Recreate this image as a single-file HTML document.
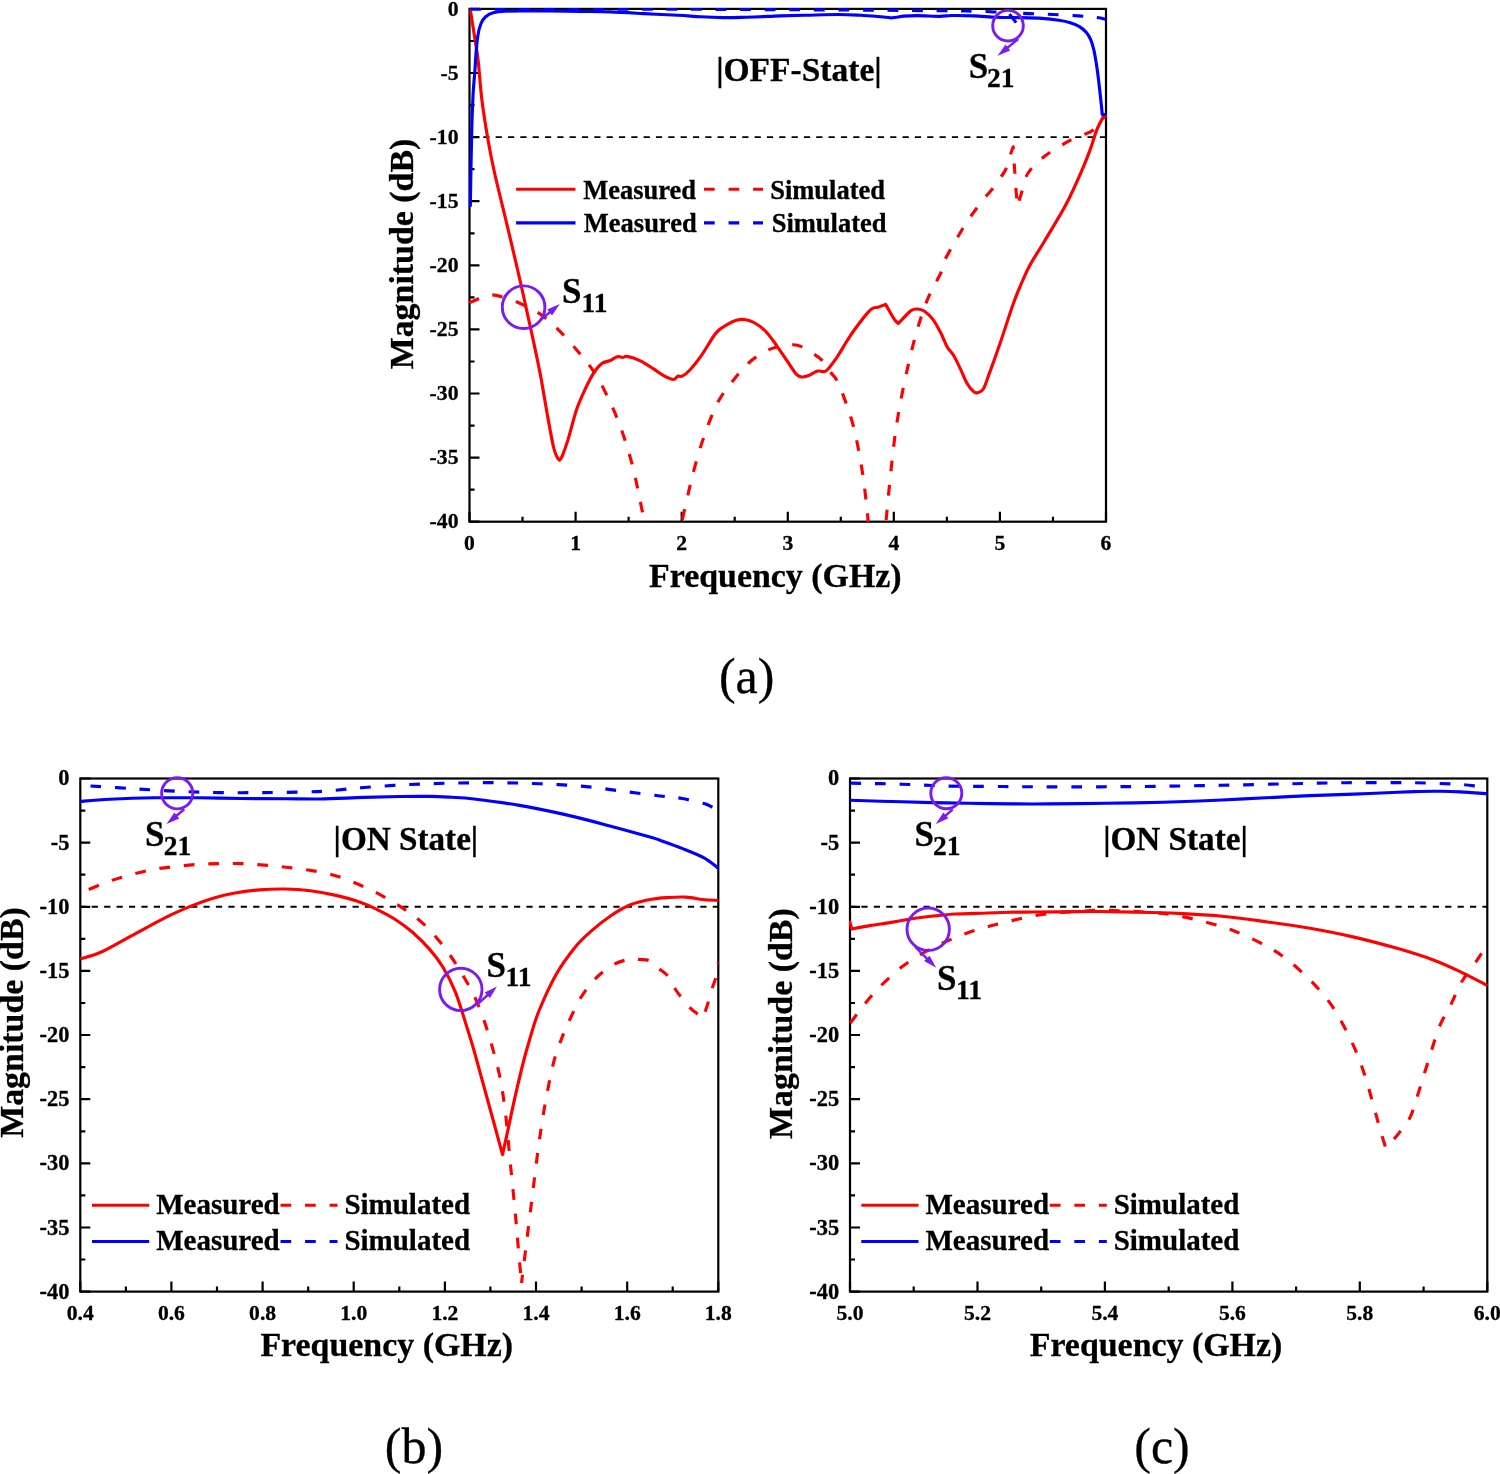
<!DOCTYPE html>
<html lang="en"><head><meta charset="utf-8"><title>S-parameters: OFF-State and ON State</title>
<style>html,body{margin:0;padding:0;background:#fff}svg{display:block;font-family:'Liberation Serif', 'Times New Roman', serif}text{stroke:#000;stroke-width:.3px}</style></head><body>
<svg width="1500" height="1474" viewBox="0 0 1500 1474" font-family='"Liberation Serif", "Times New Roman", serif'>
<rect width="1500" height="1474" fill="#fff"/>
<clipPath id="clipA"><rect x="468.5" y="7.9" width="638.5" height="514.8"/></clipPath>
<line x1="469.5" y1="137.1" x2="1106" y2="137.1" stroke="#000" stroke-width="1.9" stroke-dasharray="6.2 6.13" stroke-dashoffset="-1.5"/>
<rect x="469.5" y="8.9" width="636.5" height="512.8" fill="none" stroke="#000" stroke-width="2.2"/>
<path d="M469.5 8.9h10M469.5 41h5M469.5 73h10M469.5 105.1h5M469.5 137.1h10M469.5 169.2h5M469.5 201.2h10M469.5 233.3h5M469.5 265.3h10M469.5 297.4h5M469.5 329.4h10M469.5 361.5h5M469.5 393.5h10M469.5 425.6h5M469.5 457.6h10M469.5 489.7h5M469.5 521.7h10M469.5 521.7v-10M575.6 521.7v-10M681.7 521.7v-10M787.8 521.7v-10M893.8 521.7v-10M999.9 521.7v-10M1106 521.7v-10M522.5 521.7v-5M628.6 521.7v-5M734.7 521.7v-5M840.8 521.7v-5M946.9 521.7v-5M1053 521.7v-5" stroke="#000" stroke-width="2.2" fill="none"/>
<text x="458.5" y="15.5" font-size="21.7" font-weight="bold" text-anchor="end" >0</text>
<text x="458.5" y="79.6" font-size="21.7" font-weight="bold" text-anchor="end" >-5</text>
<text x="458.5" y="143.7" font-size="21.7" font-weight="bold" text-anchor="end" >-10</text>
<text x="458.5" y="207.8" font-size="21.7" font-weight="bold" text-anchor="end" >-15</text>
<text x="458.5" y="271.9" font-size="21.7" font-weight="bold" text-anchor="end" >-20</text>
<text x="458.5" y="336" font-size="21.7" font-weight="bold" text-anchor="end" >-25</text>
<text x="458.5" y="400.1" font-size="21.7" font-weight="bold" text-anchor="end" >-30</text>
<text x="458.5" y="464.2" font-size="21.7" font-weight="bold" text-anchor="end" >-35</text>
<text x="458.5" y="528.3" font-size="21.7" font-weight="bold" text-anchor="end" >-40</text>
<text x="469.5" y="550.3" font-size="21.6" font-weight="bold" text-anchor="middle" >0</text>
<text x="575.6" y="550.3" font-size="21.6" font-weight="bold" text-anchor="middle" >1</text>
<text x="681.7" y="550.3" font-size="21.6" font-weight="bold" text-anchor="middle" >2</text>
<text x="787.8" y="550.3" font-size="21.6" font-weight="bold" text-anchor="middle" >3</text>
<text x="893.8" y="550.3" font-size="21.6" font-weight="bold" text-anchor="middle" >4</text>
<text x="999.9" y="550.3" font-size="21.6" font-weight="bold" text-anchor="middle" >5</text>
<text x="1106" y="550.3" font-size="21.6" font-weight="bold" text-anchor="middle" >6</text>
<path d="M470.5 11.3 C470.6 11.6 470 7.6 470.8 12.8 C471.6 18 474.3 34.8 475.5 42.7 C476.7 50.6 477 50.5 478.1 60 C479.2 69.5 480.3 87.2 481.9 100 C483.5 112.8 485.5 125.3 487.5 137 C489.5 148.7 490.7 155.4 493.9 170 C497.1 184.6 502.6 206.2 506.9 224.3 C511.2 242.4 515.6 260.9 519.6 278.5 C523.6 296.1 527.5 314 531 330 C534.5 346 537.5 359.7 540.3 374.4 C543.1 389.1 545.8 406.3 548 418.4 C550.2 430.5 552 440.6 553.5 447 C555 453.4 555.8 454.3 556.8 456.5 C557.8 458.7 559 459.6 559.5 460.2 L559.5 460.2 C560 459.5 560.9 459.1 562.3 455.8 C563.7 452.5 565.4 448.1 567.8 440.4 C570.2 432.7 573.7 418.2 576.6 409.6 C579.5 401 582.5 394.9 585.4 388.7 C588.3 382.5 591.5 376.4 594.2 372.2 C597 368 599.3 365.3 601.9 363.4 C604.5 361.5 607 361.9 609.6 360.8 C612.2 359.7 615.1 357.4 617.3 356.8 C619.5 356.2 621.1 357.6 622.8 357.5 C624.4 357.4 624.3 355.8 627.2 356.4 C630.1 356.9 636 358.7 640.4 360.8 C644.8 362.9 649.6 366.3 653.6 368.9 C657.6 371.5 661.3 374.4 664.6 376.2 C667.9 378 671.2 379.5 673.4 379.5 C675.6 379.5 676.3 376.8 677.8 376.2 C679.3 375.6 680.2 377.2 682.2 376.2 C684.2 375.2 686.6 373.6 689.9 370 C693.2 366.4 697.6 360.8 702 354.6 C706.4 348.4 711.9 337.7 716.3 332.6 C720.7 327.5 724.9 325.9 728.4 323.8 C731.9 321.7 734.3 320.7 737.2 320 C740.1 319.3 743.1 319.3 746 319.8 C748.9 320.3 751.5 321.1 754.8 323 C758.1 324.9 762.1 327.7 765.8 331.5 C769.5 335.3 773 340.5 776.8 345.8 C780.6 351.1 785.5 358.6 788.8 363.4 C792.1 368.2 794.3 372.1 796.5 374.4 C798.7 376.7 800 376.8 802 377 C804 377.2 806 376.5 808.6 375.5 C811.2 374.5 814.5 371.9 817.4 371.1 C820.3 370.3 822.9 373.1 826.2 370.7 C829.5 368.3 833.9 361.5 837.2 356.8 C840.5 352.1 843.1 347.1 846 342.5 C848.9 337.9 851.1 334.3 854.8 329.3 C858.5 324.3 864.9 315.9 868 312.4 C871.1 308.8 871.9 308.9 873.5 308 C875.1 307.1 875.9 307.9 877.9 307.3 C879.9 306.7 884.3 304.9 885.6 304.4 L885.6 304.4 C887.1 306.9 892.3 316.2 894.4 319.4 C896.5 322.6 897.7 322.7 898.4 323.4 L898.4 323.4 C899.4 322.4 902.2 319.3 904.3 317.2 C906.4 315.1 908.7 312 910.9 310.6 C913.1 309.2 915.3 308.9 917.5 309 C919.7 309.1 921.5 309.3 924.1 311 C926.7 312.7 930.1 315.8 932.9 319.4 C935.6 323 938.2 328 940.6 332.6 C943 337.2 945 343 947.2 346.9 C949.4 350.8 951.6 352 953.8 355.7 C956 359.4 958.2 364.3 960.4 368.9 C962.6 373.5 964.8 379.4 967 383.2 C969.2 387 971.8 390 973.6 391.6 C975.4 393.2 976.4 393.2 978 392.7 C979.6 392.2 981.7 391.8 983.5 388.7 C985.3 385.6 986.2 381.9 989 374.4 C991.8 366.9 996 355.3 1000 343.6 C1004 331.9 1009.5 314.3 1013.2 304 C1016.9 293.7 1019.2 288.5 1022 282 C1024.8 275.5 1026.3 271.7 1030 265 C1033.7 258.3 1038 252.1 1044 242 C1050 231.9 1059.8 216.3 1066 204.6 C1072.2 192.9 1077.4 180.8 1081.4 171.6 C1085.4 162.4 1087.6 156.6 1090.2 149.6 C1092.8 142.6 1094.6 135.3 1096.8 129.8 C1099 124.3 1101.9 119.2 1103.4 116.6 C1104.9 114 1105.6 114.8 1106 114.4" fill="none" stroke="#ff0000" stroke-width="3.15" stroke-linejoin="round" clip-path="url(#clipA)"/>
<path d="M469.2 302.9 C472.4 301.6 482.8 296.1 488.6 295.2 C494.4 294.3 498.1 295.8 504 297.4 C509.9 299 517.6 302.2 523.8 305.1 C530 308 535.5 310.8 541.4 315 C547.3 319.2 552.8 324.2 559 330.4 C565.2 336.6 572.9 345.4 578.8 352.4 C584.7 359.4 589.4 364.9 594.2 372.2 C599 379.5 603 387.2 607.4 396.4 C611.8 405.6 616.6 416.2 620.6 427.2 C624.6 438.2 628.7 451.8 631.6 462.4 C634.5 473 636.4 482.6 638.2 491 C640 499.4 641.6 508.1 642.6 513 C643.6 517.9 643.8 519.1 644 520.3" fill="none" stroke="#ff0000" stroke-width="3.15" stroke-linejoin="round" stroke-dasharray="10.7 13.85" clip-path="url(#clipA)"/>
<path d="M682.2 520.3 C683.3 515.4 686.6 500.3 688.8 491 C691 481.7 692.8 473.8 695.4 464.6 C698 455.4 700.5 446.3 704.2 436 C707.9 425.7 712.6 412.2 717.4 403 C722.2 393.8 727.7 387.6 732.8 381 C737.9 374.4 743.1 368.2 748.2 363.4 C753.3 358.6 758.8 355.1 763.6 352.4 C768.4 349.6 771.9 348.2 776.8 346.9 C781.7 345.6 789 344.7 793.2 344.7 C797.4 344.7 798.7 345.4 802 346.9 C805.3 348.4 809.7 351.3 813 353.5 C816.3 355.7 818.9 357 821.8 360.1 C824.7 363.2 828 368.7 830.6 372.2 C833.2 375.7 834.6 375.9 837.2 381 C839.8 386.1 843.2 395.3 846 403 C848.8 410.7 851.5 418.8 853.7 427.2 C855.9 435.6 857.6 444.8 859.2 453.6 C860.9 462.4 862.3 470.8 863.6 480 C864.9 489.2 866.1 501.6 866.9 508.6 C867.7 515.6 868 519.8 868.2 522" fill="none" stroke="#ff0000" stroke-width="3.15" stroke-linejoin="round" stroke-dasharray="10.7 13.85" stroke-dashoffset="23.7" clip-path="url(#clipA)"/>
<path d="M886.1 520.3 C886.8 513.6 888.6 493.3 890 480 C891.4 466.7 892.8 452.9 894.4 440.4 C896 427.9 897.7 417.3 899.9 405.2 C902.1 393.1 904.9 379.9 907.6 367.8 C910.4 355.7 913.1 344 916.4 332.6 C919.7 321.2 923.2 309.9 927.4 299.6 C931.6 289.3 938.8 277.7 941.7 271 C944.6 264.3 941.5 266.6 945 259.6 C948.5 252.6 957.6 237 962.6 228.8 C967.6 220.6 971.2 215.8 975 210.5 C978.8 205.2 983.5 199.4 985.2 197.2" fill="none" stroke="#ff0000" stroke-width="3.15" stroke-linejoin="round" stroke-dasharray="10.7 13.85" stroke-dashoffset="24.35" clip-path="url(#clipA)"/>
<path d="M985.2 197.2 C986.3 195.9 989.4 192.7 991.9 189.5 C994.4 186.3 997.9 181.3 1000.2 177.9 C1002.6 174.5 1004.3 172.7 1006 168.8 C1007.7 164.9 1009.3 158.1 1010.5 154.4 C1011.7 150.7 1012.8 148.1 1013.2 146.8 L1013.2 146.8 C1013.4 149.4 1013.8 157.9 1014.1 162.1 C1014.4 166.3 1014.5 167.8 1014.8 171.8 C1015.1 175.8 1015.4 182.1 1015.7 186.2 C1016 190.3 1016.3 193 1016.6 196.3 C1016.9 199.7 1017.3 204.6 1017.4 206.3 L1017.4 206.3 C1017.6 205.7 1017.8 204.9 1018.5 202.7 C1019.2 200.5 1020.4 196.9 1021.5 192.9 C1022.6 188.9 1023.8 182.6 1025.2 178.9 C1026.6 175.2 1027.4 173.7 1029.8 170.6 C1032.2 167.5 1036.4 163.3 1039.5 160.5 C1042.6 157.7 1044.8 156 1048.4 153.5 C1052 151 1057.6 147.7 1061.2 145.5 C1064.8 143.3 1066.5 142 1070.1 140.3 C1073.7 138.6 1079.1 136.7 1082.8 135.1 C1086.5 133.5 1089.5 133 1092.5 130.6 C1095.5 128.2 1098.5 123.4 1100.7 120.9 C1103 118.4 1105.1 116.4 1106 115.5" fill="none" stroke="#ff0000" stroke-width="3.15" stroke-linejoin="round" stroke-dasharray="10.7 13.85" stroke-dashoffset="23.26" clip-path="url(#clipA)"/>
<path d="M470.3 206.8 C470.5 194.3 471.2 150.5 471.7 132 C472.1 113.5 472.5 106 473 96 C473.5 86 474.3 79 474.8 72 C475.3 65 475.5 60 476 54 C476.5 48 477 41 477.8 36 C478.6 31 479.5 27.2 480.8 24 C482.1 20.8 483.4 18.7 485.6 16.8 C487.8 14.9 490.6 13.5 494 12.6 C497.4 11.7 501.7 11.5 506 11.2 C510.3 10.9 513 10.8 520 10.8 C527 10.8 538 10.9 548 11 C558 11.1 569.7 11.2 580 11.4 C590.3 11.6 599.3 11.5 610 11.9 C620.7 12.3 632.7 13 644 13.6 C655.3 14.2 668.5 14.8 678 15.3 C687.5 15.8 693.2 16.4 700.7 16.8 C708.2 17.2 715.8 17.5 723.3 17.6 C730.8 17.7 738.4 17.4 746 17.2 C753.6 17 763 16.6 768.7 16.4 C774.4 16.2 774.1 16.1 780 15.9 C785.9 15.7 794.3 15.5 804 15.3 C813.7 15.1 828.5 14.5 838 14.5 C847.5 14.5 853.2 14.9 860.7 15.3 C868.2 15.7 878 16.6 883.3 17 C888.6 17.4 889 17.9 892.4 17.8 C895.8 17.7 899.6 16.5 903.7 16.1 C907.9 15.7 911.2 15.6 917.3 15.6 C923.3 15.6 934.3 16.3 940 16.3 C945.7 16.3 945.6 15.6 951.3 15.5 C957 15.4 966.4 15.6 974 15.9 C981.6 16.2 989.2 16.9 996.7 17.2 C1004.2 17.5 1011.8 17.4 1019.3 17.6 C1026.8 17.8 1035.4 18 1042 18.4 C1048.6 18.8 1054.3 19.5 1059 20.2 C1063.7 20.9 1066.9 21.6 1070.3 22.7 C1073.7 23.8 1076.8 25 1079.4 26.6 C1082.1 28.2 1084.3 30.1 1086.2 32.3 C1088.1 34.5 1089.4 36.6 1090.7 39.7 C1092 42.8 1093 46.3 1094.1 51 C1095.1 55.7 1096 61.4 1097 68 C1098 74.6 1098.9 83 1099.8 90.7 C1100.7 98.5 1101.9 110.5 1102.3 114.5 L1102.3 114.5 L1106 114.5" fill="none" stroke="#0000ff" stroke-width="3.15" stroke-linejoin="round" clip-path="url(#clipA)"/>
<path d="M470.2 9.2 C491.8 9.2 561.7 9.3 600 9.3 C638.3 9.3 658.3 9.2 700 9.3 C741.7 9.4 809 9.8 850 10 C891 10.2 926.7 10.6 946 10.8 C965.3 11 958.5 10.8 966 11 C973.5 11.2 983.9 11.4 991 11.7 C998.1 12 1005.7 12.8 1008.6 13 L1008.6 13 L1016.2 22.7 L1016.2 22.7 L1019.5 13.4 L1019.5 13.4 C1021.1 13.4 1023.4 13.4 1029 13.6 C1034.6 13.8 1044.8 14.1 1053 14.5 C1061.2 14.9 1070.7 15.4 1078 15.9 C1085.3 16.4 1092.3 16.9 1097 17.5 C1101.7 18.1 1104.5 19.2 1106 19.5" fill="none" stroke="#0000ff" stroke-width="3.15" stroke-linejoin="round" stroke-dasharray="10.8 13.74" clip-path="url(#clipA)"/>
<text x="775.3" y="586.7" font-size="33.9" font-weight="bold" text-anchor="middle" >Frequency (GHz)</text>
<text transform="translate(412.5 254) rotate(-90)" font-size="33.9" font-weight="bold" text-anchor="middle">Magnitude (dB)</text>
<text x="716.2" y="81" font-size="33.5" font-weight="bold" text-anchor="start" >|OFF-State|</text>
<path d="M516.1 189.2H575.5" stroke="#ff0000" stroke-width="3.15"/>
<path d="M516.1 222.9H575.5" stroke="#0000ff" stroke-width="3.15"/>
<path d="M704 189.2H763" stroke="#ff0000" stroke-width="3.15" stroke-dasharray="10.7 13.85"/>
<path d="M704 222.9H763" stroke="#0000ff" stroke-width="3.15" stroke-dasharray="10.7 13.85"/>
<text x="583.2" y="198.5" font-size="26.5" font-weight="bold" text-anchor="start" >Measured</text>
<text x="583.8" y="231.6" font-size="26.5" font-weight="bold" text-anchor="start" >Measured</text>
<text x="770.2" y="198.5" font-size="26.5" font-weight="bold" text-anchor="start" >Simulated</text>
<text x="771.7" y="231.7" font-size="26.5" font-weight="bold" text-anchor="start" >Simulated</text>
<circle cx="1008" cy="25.7" r="15.3" fill="none" stroke="#7a1cf0" stroke-width="2.9"/>
<path d="M1018.2 39.1L1006.3 48.7" stroke="#7a1cf0" stroke-width="2.4" fill="none"/>
<path d="M997.6 55.8L1005.5 44.5L1010.2 50.4Z" fill="#7a1cf0"/>
<text x="968.7" y="78.4" font-size="35" font-weight="bold">S<tspan font-size="27.5" dy="8.2" dx="-1.2">21</tspan></text>
<circle cx="523.6" cy="307.2" r="21.3" fill="none" stroke="#7a1cf0" stroke-width="2.9"/>
<path d="M541.5 319L551.1 311.2" stroke="#7a1cf0" stroke-width="2.4" fill="none"/>
<path d="M559.8 304.1L552 315.4L547.2 309.5Z" fill="#7a1cf0"/>
<text x="562" y="303" font-size="35" font-weight="bold">S<tspan font-size="27.5" dy="9.1" dx="0">11</tspan></text>
<text x="746.7" y="693.3" font-size="50" font-weight="normal" text-anchor="middle" >(a)</text>
<clipPath id="clipB"><rect x="79.3" y="777.5" width="640" height="515.1"/></clipPath>
<line x1="80.3" y1="906.8" x2="718.3" y2="906.8" stroke="#000" stroke-width="1.9" stroke-dasharray="6.2 6.22" stroke-dashoffset="1.0"/>
<rect x="80.3" y="778.5" width="638" height="513.1" fill="none" stroke="#000" stroke-width="2.2"/>
<path d="M80.3 778.5h10M80.3 810.6h5M80.3 842.6h10M80.3 874.7h5M80.3 906.8h10M80.3 938.8h5M80.3 970.9h10M80.3 1003h5M80.3 1035h10M80.3 1067.1h5M80.3 1099.2h10M80.3 1131.3h5M80.3 1163.3h10M80.3 1195.4h5M80.3 1227.5h10M80.3 1259.5h5M80.3 1291.6h10M80.3 1291.6v-10M171.4 1291.6v-10M262.6 1291.6v-10M353.7 1291.6v-10M444.9 1291.6v-10M536 1291.6v-10M627.2 1291.6v-10M718.3 1291.6v-10M125.9 1291.6v-5M217 1291.6v-5M308.2 1291.6v-5M399.3 1291.6v-5M490.4 1291.6v-5M581.6 1291.6v-5M672.7 1291.6v-5" stroke="#000" stroke-width="2.2" fill="none"/>
<text x="69.4" y="784.6" font-size="22.4" font-weight="bold" text-anchor="end" >0</text>
<text x="69.4" y="849.7" font-size="22.4" font-weight="bold" text-anchor="end" >-5</text>
<text x="69.4" y="913.9" font-size="22.4" font-weight="bold" text-anchor="end" >-10</text>
<text x="69.4" y="978" font-size="22.4" font-weight="bold" text-anchor="end" >-15</text>
<text x="69.4" y="1042.1" font-size="22.4" font-weight="bold" text-anchor="end" >-20</text>
<text x="69.4" y="1106.3" font-size="22.4" font-weight="bold" text-anchor="end" >-25</text>
<text x="69.4" y="1170.4" font-size="22.4" font-weight="bold" text-anchor="end" >-30</text>
<text x="69.4" y="1234.6" font-size="22.4" font-weight="bold" text-anchor="end" >-35</text>
<text x="69.4" y="1298.7" font-size="22.4" font-weight="bold" text-anchor="end" >-40</text>
<text x="80.3" y="1320" font-size="21.6" font-weight="bold" text-anchor="middle" >0.4</text>
<text x="171.4" y="1320" font-size="21.6" font-weight="bold" text-anchor="middle" >0.6</text>
<text x="262.6" y="1320" font-size="21.6" font-weight="bold" text-anchor="middle" >0.8</text>
<text x="353.7" y="1320" font-size="21.6" font-weight="bold" text-anchor="middle" >1.0</text>
<text x="444.9" y="1320" font-size="21.6" font-weight="bold" text-anchor="middle" >1.2</text>
<text x="536" y="1320" font-size="21.6" font-weight="bold" text-anchor="middle" >1.4</text>
<text x="627.2" y="1320" font-size="21.6" font-weight="bold" text-anchor="middle" >1.6</text>
<text x="718.3" y="1320" font-size="21.6" font-weight="bold" text-anchor="middle" >1.8</text>
<path d="M80.3 958.9 C83.8 957.8 92.8 955.8 101.3 952 C109.8 948.2 120.5 941.6 131.2 935.9 C141.9 930.2 155.4 922.6 165.3 917.6 C175.2 912.6 183.1 909.3 190.9 906.1 C198.7 902.9 205.2 900.5 212.3 898.4 C219.4 896.3 225.8 894.7 233.6 893.3 C241.4 891.9 250.7 890.6 259.2 889.9 C267.7 889.2 276.3 888.9 284.8 889 C293.3 889.1 301.9 889.6 310.4 890.7 C318.9 891.8 327.5 893.4 336 895.4 C344.5 897.4 354.5 900.2 361.6 902.7 C368.7 905.2 373 907.5 378.7 910.3 C384.4 913.1 390 916 395.7 919.7 C401.4 923.4 407.1 927.5 412.8 932.5 C418.5 937.5 424.9 943.9 429.9 949.6 C434.9 955.3 438.4 959.6 442.7 966.7 C447 973.8 451.6 982.7 455.5 992.3 C459.4 1001.9 464.3 1019.1 466.1 1024.5 L466.1 1024.5 C467.4 1028.8 471.2 1040.8 474 1050.5 C476.8 1060.2 479.5 1070.5 482.8 1082.5 C486.1 1094.5 490.5 1110.5 493.8 1122.5 C497.1 1134.5 501.1 1149.2 502.5 1154.6 L502.5 1154.6 C503.2 1151.2 505.1 1142.9 507 1134.4 C508.9 1125.9 511.2 1114.3 513.6 1103.4 C516 1092.5 519 1079.6 521.6 1069 C524.2 1058.4 526.6 1049.6 529.5 1040 C532.4 1030.4 534.3 1022.3 538.7 1011.5 C543.1 1000.7 549.7 985.9 555.7 975.2 C561.7 964.5 568.9 955 574.9 947.5 C580.9 940 586 935.7 592 930.4 C598 925.1 604.8 919.8 611.2 915.5 C617.6 911.2 623.6 907.5 630.4 904.8 C637.1 902.1 645.3 900.5 651.7 899.3 C658.1 898.1 663.1 897.9 668.8 897.5 C674.5 897.1 680.2 896.8 685.9 897.1 C691.6 897.4 697.5 898.9 702.9 899.5 C708.3 900.1 715.7 900.3 718.3 900.5" fill="none" stroke="#ff0000" stroke-width="3.15" stroke-linejoin="round" clip-path="url(#clipB)"/>
<path d="M88 889.8 C91.7 888.3 102.7 883.6 110 881 C117.3 878.4 124.7 876.4 132 874.4 C139.3 872.4 146.7 870.6 154 869.3 C161.3 868 168.7 867.2 176 866.4 C183.3 865.6 190.7 864.9 198 864.4 C205.3 863.9 212.7 863.7 220 863.6 C227.3 863.5 234.7 863.4 242 863.6 C249.3 863.9 256.7 864.5 264 865.1 C271.3 865.7 278.7 866.4 286 867.2 C293.3 868 300.5 868.8 308 870 C315.5 871.2 323.5 872.4 331 874.4 C338.5 876.4 345.7 879.2 353 882.1 C360.3 885 368.4 888.7 375 892 C381.6 895.3 387.1 898.6 392.6 901.9 C398.1 905.2 402.9 908.1 408 911.8 C413.1 915.5 418.3 919.1 423.4 923.9 C428.5 928.7 434 934.7 438.8 940.4 C443.6 946.1 448 952.1 452 958 C456 963.9 459.3 969.4 463 975.6 C466.7 981.8 470.5 988 474 995.4 C477.5 1002.8 480.8 1011.1 483.9 1020 C487 1028.9 489.9 1038.7 492.7 1048.6 C495.4 1058.5 498.2 1068 500.4 1079.4 C502.6 1090.8 504.2 1102.9 505.9 1116.8 C507.5 1130.7 508.8 1148 510.3 1163 C511.8 1178 513.4 1193.4 514.7 1207 C516 1220.6 516.9 1231.7 518 1244.4 C519.1 1257.1 520.9 1276.6 521.5 1283" fill="none" stroke="#ff0000" stroke-width="3.15" stroke-linejoin="round" stroke-dasharray="10.7 13.85" stroke-dashoffset="23.5" clip-path="url(#clipB)"/>
<path d="M521.5 1283 C522.4 1275.8 525 1254.5 526.8 1240 C528.6 1225.5 530.5 1210.7 532.3 1196 C534.1 1181.3 535.8 1166.7 537.8 1152 C539.8 1137.3 541.8 1122.7 544.4 1108 C547 1093.3 550.3 1075.7 553.2 1064 C556.1 1052.3 559.2 1045 562 1037.6 C564.8 1030.2 566.7 1026.3 569.8 1019.6 C572.9 1012.9 576.4 1004.6 580.8 997.6 C585.2 990.6 590.7 983.3 596.2 977.8 C601.7 972.3 608.8 967.6 613.8 964.6 C618.8 961.6 623.1 960.8 626.3 959.9 C629.5 959 630.7 959.2 633 959.1 C635.3 959 637.5 959.3 640.1 959.5 C642.7 959.7 646.4 959.6 648.7 960.4 C651 961.2 652.2 962.7 654 964.2 C655.8 965.7 657.2 967.2 659.6 969.2 C662 971.2 665.5 973 668.1 976.3 C670.7 979.6 673 985.5 675.2 989 C677.4 992.5 678.8 994.1 681.2 997.2 C683.6 1000.3 687.1 1004.8 689.8 1007.6 C692.5 1010.4 695.4 1012.2 697.6 1014 C699.8 1015.8 702.1 1017.7 703 1018.4 L703 1018.4 C703.4 1017.2 704.4 1014 705.4 1011 C706.4 1008 707.6 1004.4 708.8 1000.5 C710 996.6 711.3 991.4 712.5 987.5 C713.7 983.6 714.9 981.5 715.9 977.4 C716.9 973.3 718.1 965.2 718.5 962.8" fill="none" stroke="#ff0000" stroke-width="3.15" stroke-linejoin="round" stroke-dasharray="10.7 13.85" stroke-dashoffset="2.44" clip-path="url(#clipB)"/>
<path d="M80.3 801.4 C85.2 801 97.7 799.8 110 799.2 C122.3 798.6 139.3 798 154 797.8 C168.7 797.6 183.3 797.7 198 797.8 C212.7 797.9 227.3 798.4 242 798.5 C256.7 798.6 273 798.6 286 798.7 C299 798.8 307 799.2 320 799 C333 798.8 350.7 797.8 364 797.4 C377.3 797 389 796.7 400 796.5 C411 796.3 421.3 796.3 430 796.4 C438.7 796.5 444.7 796.9 452 797.3 C459.3 797.7 463 797.7 474 799 C485 800.3 503.3 802.6 518 805.1 C532.7 807.6 547.3 810.6 562 813.9 C576.7 817.2 591.3 821 606 824.9 C620.7 828.8 641 834.4 650 837 C659 839.6 654.7 838.4 660 840.3 C665.3 842.2 674.7 845.5 682 848.4 C689.3 851.3 698 854.6 704 857.9 C710 861.2 715.9 866.5 718.3 868.2" fill="none" stroke="#0000ff" stroke-width="3.15" stroke-linejoin="round" clip-path="url(#clipB)"/>
<path d="M90.2 786 C97.2 786.4 117.7 787.7 132 788.6 C146.3 789.5 161.3 790.5 176 791.2 C190.7 791.9 205.3 792.4 220 792.6 C234.7 792.8 249.3 792.7 264 792.6 C278.7 792.5 297 792.2 308 791.9 C319 791.6 320.7 791.5 330 790.8 C339.3 790.1 351 788.5 364 787.5 C377 786.5 393.3 785.3 408 784.6 C422.7 783.9 437.3 783.4 452 783.1 C466.7 782.8 481.3 782.6 496 782.7 C510.7 782.8 525.3 783.2 540 783.8 C554.7 784.4 569.3 785 584 786.4 C598.7 787.8 615.3 790.3 628 791.9 C640.7 793.5 651 794.9 660 796 C669 797.1 674.7 797.2 682 798.5 C689.3 799.8 698.9 802.1 704 803.6 C709.1 805.1 711.3 806.7 712.8 807.3" fill="none" stroke="#0000ff" stroke-width="3.15" stroke-linejoin="round" stroke-dasharray="10.7 13.85" stroke-dashoffset="24.19" clip-path="url(#clipB)"/>
<text x="386.7" y="1356.3" font-size="33.9" font-weight="bold" text-anchor="middle" >Frequency (GHz)</text>
<text transform="translate(22.5 1022.5) rotate(-90)" font-size="33.9" font-weight="bold" text-anchor="middle">Magnitude (dB)</text>
<text x="333.6" y="849.6" font-size="33.2" font-weight="bold" text-anchor="start" >|ON State|</text>
<path d="M92 1205.2h57.2" stroke="#ff0000" stroke-width="3.15"/>
<path d="M92 1241.5h57.2" stroke="#0000ff" stroke-width="3.15"/>
<path d="M280.5 1205.2h57" stroke="#ff0000" stroke-width="3.15" stroke-dasharray="10.7 13.85"/>
<path d="M280.5 1241.5h57" stroke="#0000ff" stroke-width="3.15" stroke-dasharray="10.7 13.85"/>
<text x="156.2" y="1214" font-size="29.0" font-weight="bold" text-anchor="start" >Measured</text>
<text x="156.2" y="1250.3" font-size="29.0" font-weight="bold" text-anchor="start" >Measured</text>
<text x="344.4" y="1214" font-size="29.0" font-weight="bold" text-anchor="start" >Simulated</text>
<text x="344.4" y="1250.3" font-size="29.0" font-weight="bold" text-anchor="start" >Simulated</text>
<circle cx="177.2" cy="793.3" r="15.6" fill="none" stroke="#7a1cf0" stroke-width="2.9"/>
<path d="M184.3 809.3L175.2 816.8" stroke="#7a1cf0" stroke-width="2.4" fill="none"/>
<path d="M166.6 823.9L174.4 812.6L179.2 818.4Z" fill="#7a1cf0"/>
<text x="145" y="846.2" font-size="35" font-weight="bold">S<tspan font-size="27.5" dy="9.1" dx="-0.8">21</tspan></text>
<circle cx="460.8" cy="989.4" r="21.2" fill="none" stroke="#7a1cf0" stroke-width="2.9"/>
<path d="M478.8 1003.2L488.8 994" stroke="#7a1cf0" stroke-width="2.4" fill="none"/>
<path d="M497 986.4L489.9 998.1L484.7 992.6Z" fill="#7a1cf0"/>
<text x="486.5" y="977.3" font-size="35" font-weight="bold">S<tspan font-size="27.5" dy="9.1" dx="-0.5">11</tspan></text>
<text x="414" y="1462.8" font-size="50" font-weight="normal" text-anchor="middle" >(b)</text>
<clipPath id="clipC"><rect x="849" y="777.5" width="639.3" height="515.1"/></clipPath>
<line x1="850" y1="906.8" x2="1487.3" y2="906.8" stroke="#000" stroke-width="1.9" stroke-dasharray="6.2 6.22" stroke-dashoffset="1.0"/>
<rect x="850" y="778.5" width="637.3" height="513.1" fill="none" stroke="#000" stroke-width="2.2"/>
<path d="M850 778.5h10M850 810.6h5M850 842.6h10M850 874.7h5M850 906.8h10M850 938.8h5M850 970.9h10M850 1003h5M850 1035h10M850 1067.1h5M850 1099.2h10M850 1131.3h5M850 1163.3h10M850 1195.4h5M850 1227.5h10M850 1259.5h5M850 1291.6h10M850 1291.6v-10M977.5 1291.6v-10M1104.9 1291.6v-10M1232.4 1291.6v-10M1359.8 1291.6v-10M1487.3 1291.6v-10M913.7 1291.6v-5M1041.2 1291.6v-5M1168.7 1291.6v-5M1296.1 1291.6v-5M1423.6 1291.6v-5" stroke="#000" stroke-width="2.2" fill="none"/>
<text x="839.2" y="784.6" font-size="22.4" font-weight="bold" text-anchor="end" >0</text>
<text x="839.2" y="849.7" font-size="22.4" font-weight="bold" text-anchor="end" >-5</text>
<text x="839.2" y="913.9" font-size="22.4" font-weight="bold" text-anchor="end" >-10</text>
<text x="839.2" y="978" font-size="22.4" font-weight="bold" text-anchor="end" >-15</text>
<text x="839.2" y="1042.1" font-size="22.4" font-weight="bold" text-anchor="end" >-20</text>
<text x="839.2" y="1106.3" font-size="22.4" font-weight="bold" text-anchor="end" >-25</text>
<text x="839.2" y="1170.4" font-size="22.4" font-weight="bold" text-anchor="end" >-30</text>
<text x="839.2" y="1234.6" font-size="22.4" font-weight="bold" text-anchor="end" >-35</text>
<text x="839.2" y="1298.7" font-size="22.4" font-weight="bold" text-anchor="end" >-40</text>
<text x="850" y="1320" font-size="21.6" font-weight="bold" text-anchor="middle" >5.0</text>
<text x="977.5" y="1320" font-size="21.6" font-weight="bold" text-anchor="middle" >5.2</text>
<text x="1104.9" y="1320" font-size="21.6" font-weight="bold" text-anchor="middle" >5.4</text>
<text x="1232.4" y="1320" font-size="21.6" font-weight="bold" text-anchor="middle" >5.6</text>
<text x="1359.8" y="1320" font-size="21.6" font-weight="bold" text-anchor="middle" >5.8</text>
<text x="1487.3" y="1320" font-size="21.6" font-weight="bold" text-anchor="middle" >6.0</text>
<path d="M849.5 920.6 L851.8 929 L851.8 929 C854.8 928.4 863.6 926.7 870 925.6 C876.4 924.5 884 923.6 890 922.6 C896 921.6 900.6 920.7 906 919.8 C911.4 918.9 917.1 918 922.6 917.3 C928.1 916.6 933.6 916 939 915.5 C944.4 915 947 914.4 955.1 914 C963.2 913.6 978.6 913.3 987.7 913 C996.9 912.7 1002.3 912.5 1010 912.3 C1017.7 912.1 1022.7 912.1 1034 912 C1045.3 911.9 1067 911.7 1078 911.6 C1089 911.5 1090.7 911.4 1100 911.5 C1109.3 911.6 1121 911.8 1134 912.1 C1147 912.4 1163.3 912.7 1178 913.4 C1192.7 914.1 1207.3 914.8 1222 916.2 C1236.7 917.6 1251.3 919.7 1266 921.7 C1280.7 923.7 1295.3 925.7 1310 928.3 C1324.7 930.9 1339.3 933.7 1354 937.1 C1368.7 940.5 1384.7 944.8 1398 948.6 C1411.3 952.5 1423.2 956.2 1434 960.2 C1444.8 964.2 1453.7 968.6 1462.6 972.8 C1471.5 977 1483.2 983.4 1487.3 985.5" fill="none" stroke="#ff0000" stroke-width="3.15" stroke-linejoin="round" clip-path="url(#clipC)"/>
<path d="M850.3 1023 C852.7 1019.9 859.6 1010.3 864.6 1004.2 C869.6 998.1 873.8 992.8 880 986.6 C886.2 980.4 894.7 972.5 902 966.8 C909.3 961.1 916.7 956.7 924 952.5 C931.3 948.3 938.7 944.8 946 941.5 C953.3 938.2 960.7 935.3 968 932.7 C975.3 930.1 982.7 928.1 990 926.1 C997.3 924.1 1004.7 922.3 1012 920.6 C1019.3 918.9 1026.7 917.1 1034 915.8 C1041.3 914.5 1048.7 913.6 1056 912.9 C1063.3 912.2 1070.7 911.8 1078 911.4 C1085.3 911 1090.7 910.3 1100 910.3 C1109.3 910.3 1122.8 910.8 1134 911.4 C1145.2 912 1156 912.5 1167 914 C1178 915.5 1189 917.9 1200 920.6 C1211 923.4 1222 926.3 1233 930.5 C1244 934.7 1256.8 940.9 1266 945.9 C1275.2 950.9 1280.7 954.5 1288 960.2 C1295.3 965.9 1303.4 973.4 1310 980 C1316.6 986.6 1322.5 993.1 1327.6 999.8 C1332.7 1006.5 1336 1011.9 1340.5 1020 C1345 1028.1 1350.8 1039.4 1354.8 1048.6 C1358.8 1057.8 1361.8 1066.2 1364.7 1075 C1367.6 1083.8 1370 1093 1372.4 1101.4 C1374.8 1109.8 1376.8 1117.9 1379 1125.6 C1381.2 1133.3 1384.5 1143.9 1385.6 1147.6 L1385.6 1147.6 C1385.8 1147.5 1384.9 1148.8 1386.7 1146.9 C1388.5 1145 1393.2 1140.2 1396.4 1136.3 C1399.6 1132.4 1403.5 1127.1 1406 1123.5 C1408.5 1119.9 1409.5 1119.1 1411.4 1114.5 C1413.3 1109.9 1415.3 1102.8 1417.5 1095.8 C1419.7 1088.8 1422.2 1080.4 1424.6 1072.8 C1427 1065.2 1429.2 1057.7 1431.7 1049.9 C1434.2 1042.1 1436.4 1033.7 1439.6 1026.1 C1442.8 1018.5 1447.4 1011.5 1451.1 1004.1 C1454.8 996.8 1457.3 989.2 1461.6 982 C1465.8 974.8 1472.3 967 1476.6 960.8 C1480.9 954.6 1485.5 947.3 1487.3 944.6" fill="none" stroke="#ff0000" stroke-width="3.15" stroke-linejoin="round" stroke-dasharray="10.7 13.85" clip-path="url(#clipC)"/>
<path d="M850.3 800.3 C858.9 800.5 886 801.4 902 801.8 C918 802.2 931.3 802.6 946 802.9 C960.7 803.2 975.3 803.4 990 803.6 C1004.7 803.8 1019.3 804 1034 804 C1048.7 804 1061.3 803.8 1078 803.6 C1094.7 803.4 1117.3 803.2 1134 802.9 C1150.7 802.6 1163.3 802.3 1178 801.8 C1192.7 801.3 1207.3 800.7 1222 800 C1236.7 799.3 1251.3 798.5 1266 797.8 C1280.7 797.1 1295.3 796.2 1310 795.6 C1324.7 795 1339.3 794.7 1354 794.1 C1368.7 793.5 1387 792.7 1398 792.3 C1409 791.9 1413 791.7 1420 791.5 C1427 791.3 1433.3 791.2 1440 791.3 C1446.7 791.4 1452.1 791.5 1460 791.9 C1467.9 792.3 1482.8 793.4 1487.3 793.7" fill="none" stroke="#0000ff" stroke-width="3.15" stroke-linejoin="round" clip-path="url(#clipC)"/>
<path d="M850.3 783.1 C858.9 783.3 886 783.7 902 784.2 C918 784.7 931.3 785.6 946 786 C960.7 786.4 975.3 786.3 990 786.4 C1004.7 786.5 1015.7 786.7 1034 786.8 C1052.3 786.9 1079.7 786.9 1100 786.8 C1120.3 786.7 1135.7 786.6 1156 786.4 C1176.3 786.1 1200 785.7 1222 785.3 C1244 784.9 1267.3 784.2 1288 783.8 C1308.7 783.4 1325.3 782.9 1346 782.7 C1366.7 782.5 1393.7 782.5 1412 782.7 C1430.3 783 1445.4 783.7 1456 784.2 C1466.6 784.8 1472.5 785.7 1475.8 786" fill="none" stroke="#0000ff" stroke-width="3.15" stroke-linejoin="round" stroke-dasharray="10.7 13.85" stroke-dashoffset="24.41" clip-path="url(#clipC)"/>
<text x="1156" y="1356.3" font-size="33.9" font-weight="bold" text-anchor="middle" >Frequency (GHz)</text>
<text transform="translate(792 1023.6) rotate(-90)" font-size="33.9" font-weight="bold" text-anchor="middle">Magnitude (dB)</text>
<text x="1103.2" y="849.6" font-size="33.2" font-weight="bold" text-anchor="start" >|ON State|</text>
<path d="M861.3 1205.2h57.2" stroke="#ff0000" stroke-width="3.15"/>
<path d="M861.3 1241.5h57.2" stroke="#0000ff" stroke-width="3.15"/>
<path d="M1049.8 1205.2h57" stroke="#ff0000" stroke-width="3.15" stroke-dasharray="10.7 13.85"/>
<path d="M1049.8 1241.5h57" stroke="#0000ff" stroke-width="3.15" stroke-dasharray="10.7 13.85"/>
<text x="925.5" y="1214" font-size="29.0" font-weight="bold" text-anchor="start" >Measured</text>
<text x="925.5" y="1250.3" font-size="29.0" font-weight="bold" text-anchor="start" >Measured</text>
<text x="1113.7" y="1214" font-size="29.0" font-weight="bold" text-anchor="start" >Simulated</text>
<text x="1113.7" y="1250.3" font-size="29.0" font-weight="bold" text-anchor="start" >Simulated</text>
<circle cx="946.3" cy="793.3" r="15.5" fill="none" stroke="#7a1cf0" stroke-width="2.9"/>
<path d="M952.7 809.5L944.3 816.6" stroke="#7a1cf0" stroke-width="2.4" fill="none"/>
<path d="M935.8 823.9L943.4 812.4L948.3 818.2Z" fill="#7a1cf0"/>
<text x="914.5" y="846.2" font-size="35" font-weight="bold">S<tspan font-size="27.5" dy="9.1" dx="-1">21</tspan></text>
<circle cx="928.2" cy="929.2" r="21.2" fill="none" stroke="#7a1cf0" stroke-width="2.9"/>
<path d="M915.2 947L928.2 959.8" stroke="#7a1cf0" stroke-width="2.4" fill="none"/>
<path d="M936.2 967.7L924.1 961.1L929.5 955.7Z" fill="#7a1cf0"/>
<text x="937" y="990.2" font-size="35" font-weight="bold">S<tspan font-size="27.5" dy="9.1" dx="-0.5">11</tspan></text>
<text x="1162" y="1462.8" font-size="50" font-weight="normal" text-anchor="middle" >(c)</text>
</svg></body></html>
